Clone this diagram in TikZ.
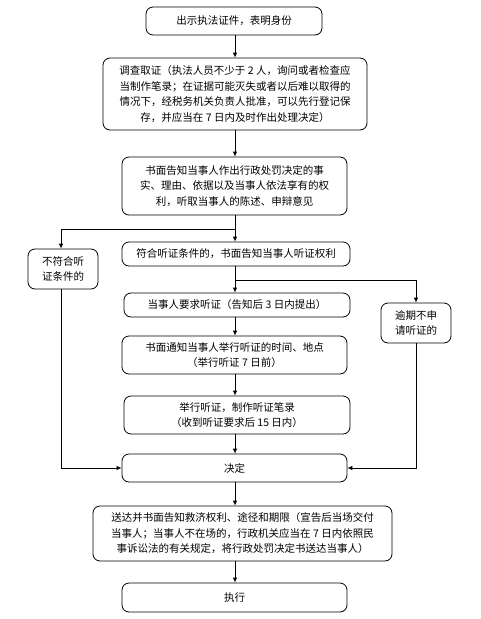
\documentclass[tikz,border=0pt]{standalone}
\usepackage{fontspec}
\setmainfont{Noto Sans CJK SC}
\usetikzlibrary{arrows.meta}
\begin{document}
\begin{tikzpicture}[x=1pt,y=-1pt,
  box/.style={draw, line width=0.8pt, rounded corners=7pt, align=center, inner sep=1pt,
    font=\fontsize{10.5}{15.5}\selectfont},
  arr/.style={draw, line width=0.8pt, -{Latex[length=5pt,width=4.5pt]}},
  ln/.style={draw, line width=0.8pt}]
\useasboundingbox (0,0) rectangle (481,619);
\node[box, minimum width=176pt, minimum height=28pt] (b1) at (234,21) {出示执法证件，表明身份};
\node[box, minimum width=264pt, minimum height=72pt] (b2) at (235,94) {调查取证（执法人员不少于 2 人，询问或者检查应\\当制作笔录；在证据可能灭失或者以后难以取得的\\情况下，经税务机关负责人批准，可以先行登记保\\存，并应当在 7 日内及时作出处理决定）};
\node[box, minimum width=225pt, minimum height=58pt] (b3) at (234.5,186) {书面告知当事人作出行政处罚决定的事\\实、理由、依据以及当事人依法享有的权\\利，听取当事人的陈述、申辩意见};
\node[box, minimum width=228pt, minimum height=24pt] (b4) at (236,254) {符合听证条件的，书面告知当事人听证权利};
\node[box, minimum width=70pt, minimum height=40pt] (bL) at (63,269) {不符合听\\证条件的};
\node[box, minimum width=70pt, minimum height=40pt] (bR) at (416,323) {逾期不申\\请听证的};
\node[box, minimum width=226pt, minimum height=24pt] (b5) at (237,305) {当事人要求听证（告知后 3 日内提出）};
\node[box, minimum width=225pt, minimum height=38pt] (b6) at (234.5,355) {书面通知当事人举行听证的时间、地点\\（举行听证 7 日前）};
\node[box, minimum width=226pt, minimum height=38pt] (b7) at (237,415) {举行听证，制作听证笔录\\（收到听证要求后 15 日内）};
\node[box, minimum width=225pt, minimum height=28pt] (b8) at (234.5,468) {决定};
\node[box, minimum width=299pt, minimum height=55pt] (b9) at (242.5,533.5) {送达并书面告知救济权利、途径和期限（宣告后当场交付\\当事人；当事人不在场的，行政机关应当在 7 日内依照民\\事诉讼法的有关规定，将行政处罚决定书送达当事人）};
\node[box, minimum width=225pt, minimum height=29pt] (b10) at (234.5,597.5) {执行};
\coordinate (j1) at (235,229);
\coordinate (j2) at (235,280);
\draw[arr] (b1.south -| 235,0) -- (235,0 |- b2.north);
\draw[arr] (b2.south -| 235,0) -- (235,0 |- b3.north);
\draw[arr] (b3.south -| 235,0) -- (235,0 |- b4.north);
\draw[arr] (j1) -| (bL.north -| 61,0);
\draw[arr] (b4.south -| 235,0) -- (235,0 |- b5.north);
\draw[arr] (j2) -| (bR.north);
\draw[arr] (b5.south -| 235,0) -- (235,0 |- b6.north);
\draw[arr] (b6.south -| 235,0) -- (235,0 |- b7.north);
\draw[arr] (b7.south -| 235,0) -- (235,0 |- b8.north);
\draw[arr] (b8.south -| 235,0) -- (235,0 |- b9.north);
\draw[arr] (b9.south -| 235,0) -- (235,0 |- b10.north);
\draw[arr] (bL.south -| 61,0) |- (b8.west);
\draw[arr] (bR.south) |- (b8.east);
\end{tikzpicture}
\end{document}
